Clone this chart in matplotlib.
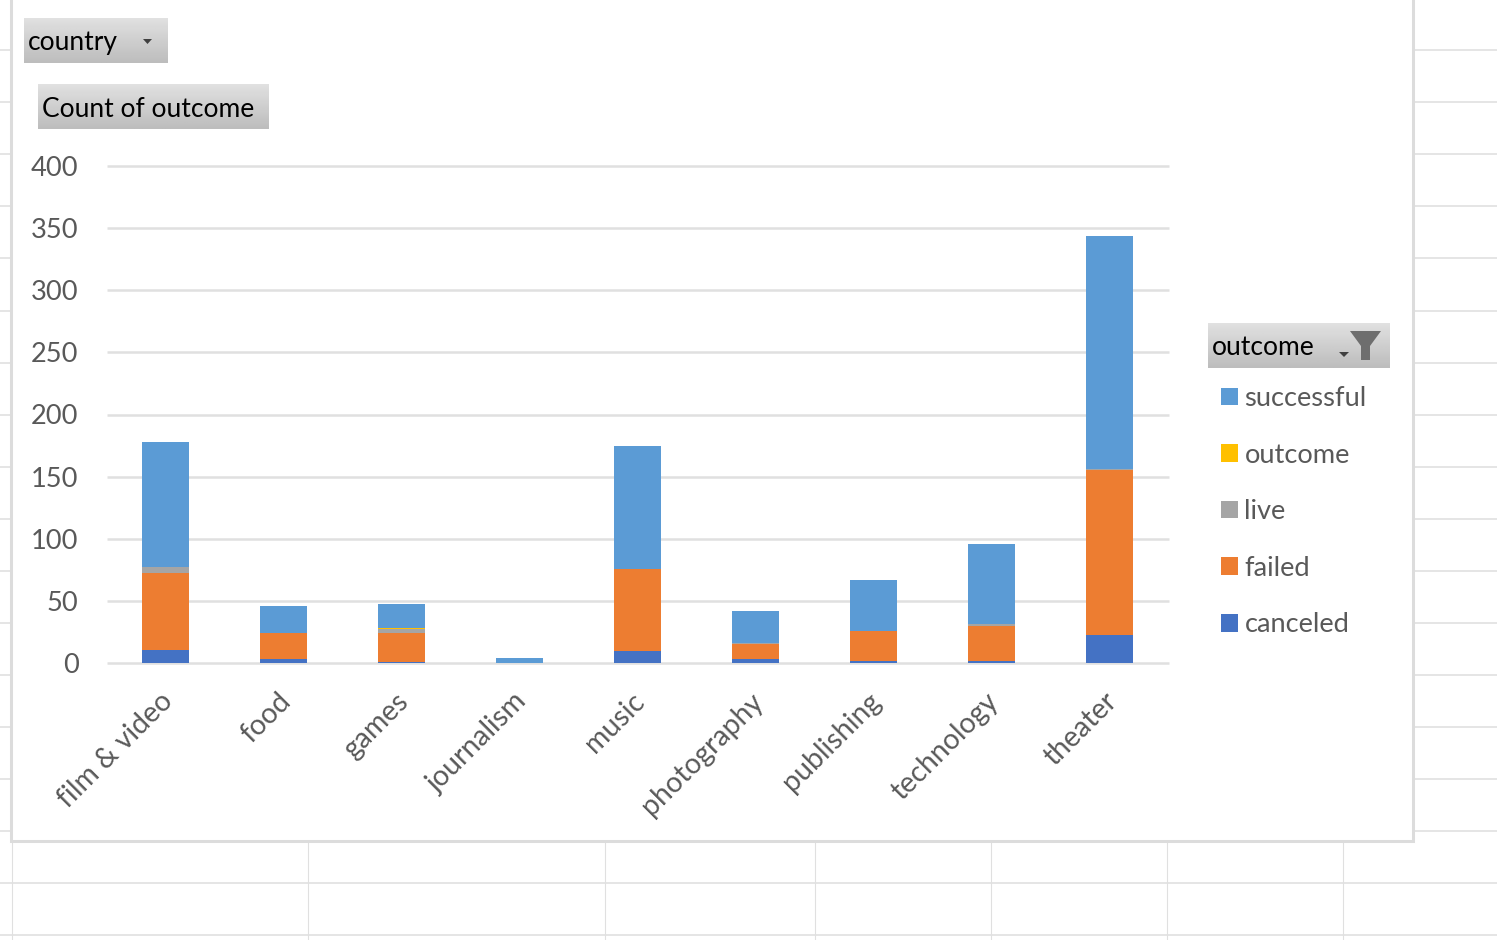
import numpy as np
import matplotlib.pyplot as plt
from matplotlib.patches import Polygon, Rectangle
from matplotlib.transforms import ScaledTranslation

categories = ["film & video", "food", "games", "journalism", "music",
              "photography", "publishing", "technology", "theater"]
canceled = [10.5, 3, 1, 0, 10, 3, 1.5, 2, 22.5]
failed = [62, 21, 23, 0, 66, 12, 24, 28, 133]
live = [5, 0, 3, 0, 0, 1, 0.5, 1.5, 1]
outcome = [0, 0, 1, 0, 0, 0, 0, 0, 0]
successful = [100.5, 22, 19.5, 4, 99, 26, 41, 64.5, 187.5]
y_ticks = [0, 50, 100, 150, 200, 250, 300, 350, 400]

series = [
    ("canceled", canceled, "#4472c4"),
    ("failed", failed, "#ed7d31"),
    ("live", live, "#a5a5a5"),
    ("outcome", outcome, "#ffc000"),
    ("successful", successful, "#5b9bd5"),
]

W, H = 1497, 940
plt.rcParams["font.family"] = ["Lato", "DejaVu Sans"]
TEXT = "#595959"
GRID = "#e0e0e0"
FS_BUTTON = 19
FS = 19.6
FS_XLABEL = 20.4

fig = plt.figure(figsize=(W / 100, H / 100), dpi=100)

# background sheet in pixel coordinates
bg = fig.add_axes([0, 0, 1, 1])
bg.set_xlim(0, W)
bg.set_ylim(H, 0)
bg.axis("off")
for y in [50, 102, 154, 206, 258, 311, 363, 415, 467, 519, 571, 623, 675, 727, 779, 831, 883, 935]:
    bg.plot([0, W], [y, y], color=GRID, lw=1.2, zorder=1)
for x in [12, 308, 605, 815, 991, 1167, 1343]:
    bg.plot([x, x], [842, H], color=GRID, lw=0.8, zorder=1)
bg.add_patch(Rectangle((11, -5), 1402, 846, fc="white", ec="#dcdcdc", lw=2.2, zorder=2))


def button(x0, y0, x1, y1, label, baseline):
    grad = np.linspace(0.88, 0.74, 40).reshape(-1, 1)
    bg.imshow(grad, extent=(x0, x1, y1, y0), cmap="gray", vmin=0, vmax=1,
              aspect="auto", zorder=3)
    bg.text(x0 + 4, baseline, label, fontsize=FS_BUTTON, color="black",
            va="baseline", ha="left", zorder=4)


button(24, 18, 168, 63, "country", 50)
button(38, 84, 269, 129, "Count of outcome", 117)
button(1208, 323, 1390, 368, "outcome", 355)
bg.set_xlim(0, W)
bg.set_ylim(H, 0)
bg.add_patch(Polygon([(143, 39), (152, 39), (147.5, 44)], fc="#404040", zorder=5))
bg.add_patch(Polygon([(1339, 352), (1349, 352), (1344, 357)], fc="#404040", zorder=5))
bg.add_patch(Polygon([(1350, 331), (1381, 331), (1370, 346), (1370, 360), (1361, 360), (1361, 346)],
                     fc="#6e6e6e", zorder=5))

# chart area
ax = fig.add_axes([106.5 / W, 1 - 663 / H, (1168 - 106) / W, (663 - 166) / H])
ax.patch.set_alpha(0)
x = np.arange(len(categories))
bottom = np.zeros(len(categories))
handles = {}
for name, vals, color in series:
    handles[name] = ax.bar(x, vals, 0.4, bottom=bottom, color=color, label=name, zorder=3)
    bottom += np.array(vals)

ax.set_xlim(-0.5, len(categories) - 0.5)
ax.set_ylim(0, 400)
ax.set_yticks(y_ticks)
ax.set_xticks(x)
ax.set_xticklabels(categories, rotation=45, ha="right", rotation_mode="anchor")
ax.tick_params(axis="both", length=0, labelsize=FS, labelcolor=TEXT)
ax.tick_params(axis="y", pad=20)
ax.tick_params(axis="x", pad=18, labelsize=FS_XLABEL)
shift = ScaledTranslation(-6 / 100, 0, fig.dpi_scale_trans)
for lab in ax.get_xticklabels():
    lab.set_transform(lab.get_transform() + shift)
ax.grid(axis="y", color=GRID, lw=1.8, zorder=0)
for line in ax.get_ygridlines():
    line.set_clip_on(False)
    line.set_solid_capstyle("butt")
for s in ax.spines.values():
    s.set_visible(False)

order = ["successful", "outcome", "live", "failed", "canceled"]
leg = fig.legend([handles[n] for n in order], order, loc="upper left",
                 bbox_to_anchor=(1221 / W, 1 - 386 / H), frameon=False, fontsize=FS,
                 labelcolor=TEXT, handlelength=0.62, handleheight=0.62, handletextpad=0.24,
                 labelspacing=1.16, borderpad=0, borderaxespad=0)

fig.savefig("out.png", dpi=100)
